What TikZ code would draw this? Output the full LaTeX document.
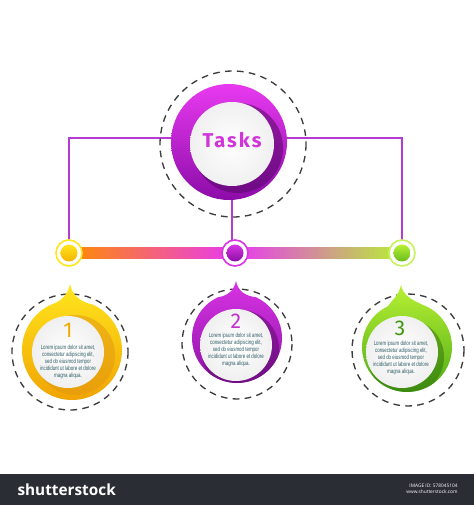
\documentclass[tikz,border=0pt]{standalone}
\usepackage{fontspec}
\usetikzlibrary{calc}
\setmainfont{Liberation Sans}
\newfontfamily\tasksfont[LetterSpace=10]{Fira Sans}
\newfontfamily\numfont{Fira Sans}
\newfontfamily\loremfont[FakeStretch=0.72]{Liberation Sans}
\newfontfamily\bannerfont{Open Sans}
\definecolor{thinmag}{HTML}{B43CD2}
\definecolor{dashgrey}{HTML}{3C3C3C}
\definecolor{magL}{HTML}{E83AF0}
\definecolor{magD}{HTML}{8C0CA8}
\definecolor{yelL}{HTML}{FFE61E}
\definecolor{yelD}{HTML}{F0A000}
\definecolor{purL}{HTML}{D834E4}
\definecolor{purD}{HTML}{8A10A4}
\definecolor{grnL}{HTML}{B8F034}
\definecolor{grnD}{HTML}{46A812}
\definecolor{loremtxt}{HTML}{2E5C66}
\definecolor{bannerdark}{HTML}{2B2D35}
\tikzset{every picture/.style={line width=0.75pt}}
\tikzset{
  dashring/.style={draw=dashgrey, line width=1pt, dash pattern=on 5pt off 4pt},
  linkline/.style={draw=thinmag, line width=1pt},
  whitedisk/.style={inner color=white, outer color=black!6},
  loremtext/.style={text=loremtxt, font=\loremfont\fontsize{4.6}{5.4}\selectfont, align=center, inner sep=0pt},
  numtext/.style={font=\numfont\fontsize{16}{16}\selectfont, inner sep=0pt}
}

\begin{document}
\begin{tikzpicture}[x=0.75pt,y=0.75pt,yscale=-1,xscale=1]
\useasboundingbox (0,0) rectangle (474,505);
\fill[white] (0,0) rectangle (474,505);

%Coordinates
\coordinate (topC) at (232,140);
\coordinate (cornerL) at (69,138);
\coordinate (cornerR) at (402,138);
\coordinate (hubL) at (69,253);
\coordinate (hubM) at (235,253);
\coordinate (hubR) at (402,253);

%Straight Lines
\draw[linkline] (topC |- cornerL) -- (cornerL) -- (hubL);
\draw[linkline] (topC |- cornerR) -- (cornerR) -- (hubR);
\draw[linkline] (topC) -- (topC |- hubM);

%Gradient bar
\fill[left color=orange!90!yellow, middle color=red!40!magenta!70, right color=magL] (69,248) rectangle (235,258);
\fill[left color=magL, middle color=brown!70!orange!80, right color=grnL] (235,248) rectangle (402,258);

%Hubs
\draw[draw=yelL, line width=1.2pt, fill=white] (hubL) circle (13);
\shade[top color=yelL, bottom color=yelD!80!yellow] (hubL) circle (8.5);
\draw[draw=purL, line width=1.2pt, fill=white] (hubM) circle (13);
\shade[top color=purL, bottom color=purD] (hubM) circle (8.5);
\draw[draw=grnL!80!white, line width=1.2pt, fill=white] (hubR) circle (13);
\shade[top color=grnL, bottom color=grnD!70!grnL] (hubR) circle (8.5);

%Top circle
\draw[dashring] (233,144) circle (73);
\shade[shading angle=45, top color=magL, bottom color=magD] (229,142) circle (58);
\begin{scope}
\clip (229,142) circle (58);
\fill[magD!60!black, opacity=0.55] (238,148) circle (45);
\end{scope}
\shade[whitedisk] (232,144) circle (42);
\node[text=magL!90!black, font=\tasksfont\bfseries\fontsize{15}{15}\selectfont, inner sep=0pt] (tasks) at (232,140) {Tasks};

%Bubble 1
\draw[dashring] (70,352) circle (58);
\shade[shading angle=30, top color=yelL, bottom color=yelD] (70,284) .. controls (72,295) and (80,302) .. ($(72,350)+(-65:50)$) arc[start angle=-65, end angle=245, radius=50] .. controls (60,302) and (68,295) .. (70,284) -- cycle;
\begin{scope}
\clip (72,350) circle (50);
\fill[yelD!70!brown, opacity=0.5] (75,355) circle (40);
\end{scope}
\shade[whitedisk] (68,352) circle (36);
\node[numtext, text=yelD!90!yellow] (num1) at (68,330) {1};
\node[loremtext] (lorem1) at (68,362) {Lorem ipsum dolor sit amet,\\consectetur adipiscing elit,\\sed do eiusmod tempor\\incididunt ut labore et dolore\\magna aliqua.};

%Bubble 2
\draw[dashring] (237,344) circle (55);
\shade[shading angle=30, top color=purL, bottom color=purD] (236,281) .. controls (238,291) and (245,296) .. ($(237,338)+(-65:45)$) arc[start angle=-65, end angle=245, radius=45] .. controls (227,296) and (234,291) .. (236,281) -- cycle;
\begin{scope}
\clip (237,338) circle (45);
\fill[purD!60!black, opacity=0.5] (240,349) circle (39);
\end{scope}
\shade[whitedisk] (236,345) circle (36);
\node[numtext, text=purL!90!black] (num2) at (236,321) {2};
\node[loremtext] (lorem2) at (236,350) {Lorem ipsum dolor sit amet,\\consectetur adipiscing elit,\\sed do eiusmod tempor\\incididunt ut labore et dolore\\magna aliqua.};

%Bubble 3
\draw[dashring] (408,350) circle (56);
\shade[shading angle=30, top color=grnL, bottom color=grnD] (401,285) .. controls (403,295) and (411,300) .. ($(407,347)+(-65:45)$) arc[start angle=-65, end angle=245, radius=45] .. controls (392,300) and (399,295) .. (401,285) -- cycle;
\begin{scope}
\clip (407,347) circle (45);
\fill[grnD!60!black, opacity=0.45] (406,357) circle (38);
\end{scope}
\shade[whitedisk] (402,352) circle (36);
\node[numtext, text=grnD!90!black] (num3) at (400,328) {3};
\node[loremtext] (lorem3) at (401,358) {Lorem ipsum dolor sit amet,\\consectetur adipiscing elit,\\sed do eiusmod tempor\\incididunt ut labore et dolore\\magna aliqua.};

%Banner
\fill[bannerdark] (0,474) rectangle (474,505);
\node[anchor=west, text=white, font=\bannerfont\bfseries\fontsize{11.5}{11.5}\selectfont, inner sep=0pt] (brand) at (17,490) {shutterstock};
\node[anchor=east, text=white, font=\bannerfont\fontsize{3.6}{4.5}\selectfont, align=right, inner sep=0pt] (imgid) at (458,489) {IMAGE ID: 578045104\\www.shutterstock.com};

\end{tikzpicture}
\end{document}
